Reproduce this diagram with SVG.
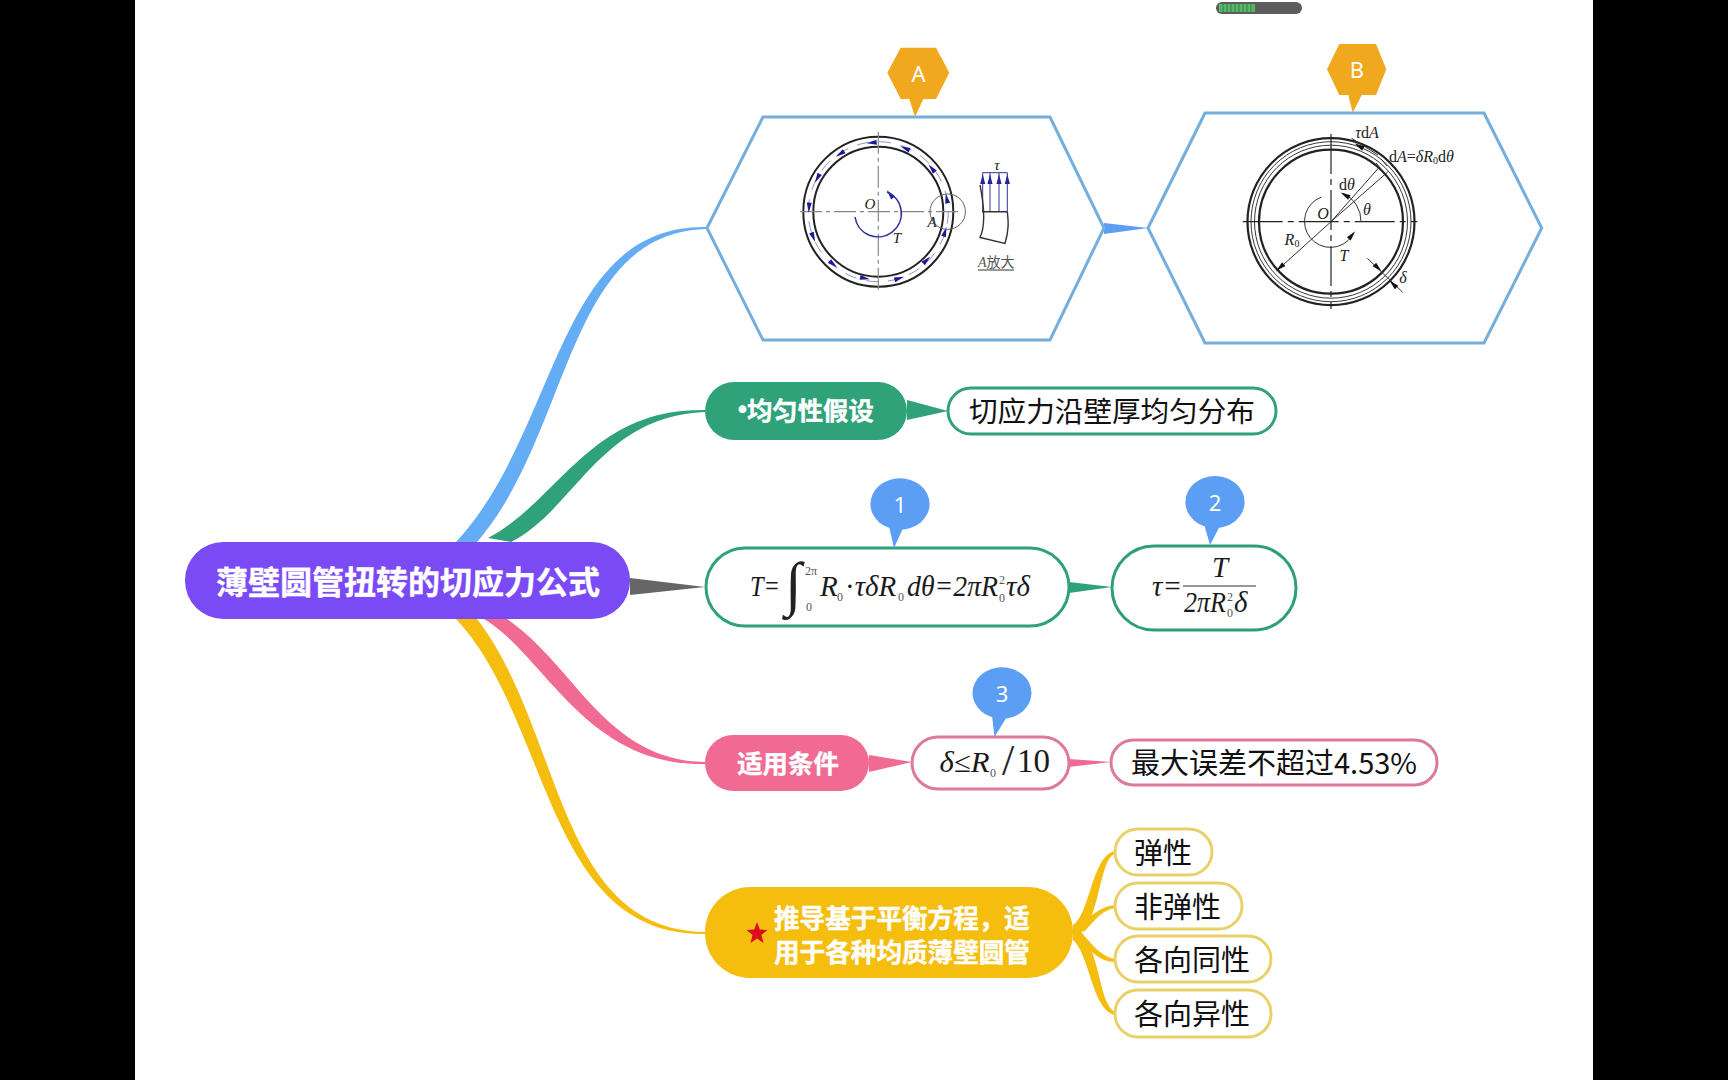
<svg xmlns="http://www.w3.org/2000/svg" width="1728" height="1080" viewBox="0 0 1728 1080">
<style>
.cjk{font-family:"Noto Sans CJK SC","Noto Sans",sans-serif}
.w{fill:#fff;font-weight:700;stroke:#fff;stroke-width:.4;dominant-baseline:central}
.k{fill:#111;dominant-baseline:central}
.c{text-anchor:middle}
.m{fill:#fff;font-family:"Noto Sans","Liberation Sans",sans-serif;font-size:22px;text-anchor:middle;dominant-baseline:central}
.s{font-family:"Liberation Serif",serif;fill:#222}
.i{font-style:italic}
.f{font-size:29px;fill:#1a1a1a}
.t{font-size:12px;fill:#555}
.d{font-size:16px}
.hex{fill:#fff;stroke:#74AEDC;stroke-width:3}
.ax{stroke:#888;stroke-width:1.2;stroke-dasharray:22 4 4 4;fill:none}
.ax2{stroke:#222;stroke-width:1.2;stroke-dasharray:40 5 6 5;fill:none}
.r{fill:none;stroke:#222}
.ln{fill:none;stroke:#333;stroke-width:1}
.bl{fill:#5B9EF4}
.or{fill:#F0A81E}
.nd{fill:#fff;stroke-width:3}
</style>
<defs><polygon id="h" points="-5,-2.5 5,0 -5,2.5"/></defs>
<rect width="1728" height="1080" fill="#fff"/>
<rect id="bar-left" x="0" y="0" width="135" height="1080" fill="#000"/>
<rect id="bar-right" x="1593" y="0" width="135" height="1080" fill="#000"/>
<g id="progress">
<rect x="1216" y="2" width="86" height="12" rx="6" fill="#5c5c5c"/>
<rect x="1219" y="4" width="36" height="8" fill="#58b868"/>
<path d="M1223 4v8M1227 4v8M1231 4v8M1235 4v8M1239 4v8M1243 4v8M1247 4v8M1251 4v8" stroke="#3d7a4a" stroke-width="1"/>
</g>
<g id="connectors">
<path fill="#64ADF5" d="M456,542C560,430 556,224 707,227L707,229C566,232 572,432 477,542Z"/>
<path fill="#2FA27A" d="M488,538C560,500 590,408 705,410L705,412C600,416 575,510 511,542Z"/>
<path fill="#666" d="M630,578L705,587L630,595Z"/>
<path fill="#F06A93" d="M484,619C545,655 585,766 705,764L705,762C605,760 575,665 507,619Z"/>
<path fill="#F5BE0F" d="M456,619C551,720 545,936 705,934L705,932C556,930 563,730 477,619Z"/>
<path fill="#5B9EF4" d="M1104,223L1148,228L1104,234Z"/>
<path fill="#2FA27A" d="M907,400L948,411L907,420Z"/>
<path fill="#2FA27A" d="M1069,582L1112,587L1069,593Z"/>
<path fill="#F06A93" d="M869,755L912,762L869,772Z"/>
<path fill="#F06A93" d="M1069,759L1111,762L1069,767Z"/>
<path fill="#F5BE0F" d="M1073,925C1090,915 1092,855 1115,851L1115,854C1100,858 1100,915 1082,932L1073,940Z"/>
<path fill="#F5BE0F" d="M1080,925C1092,915 1100,907 1115,905L1115,908C1102,910 1095,920 1084,932Z"/>
<path fill="#F5BE0F" d="M1082,933C1092,945 1102,957 1115,959L1115,962C1100,962 1090,950 1078,940Z"/>
<path fill="#F5BE0F" d="M1073,925L1082,933C1100,955 1100,1006 1115,1012L1115,1015C1092,1010 1090,955 1073,940Z"/>
</g>
<g id="root">
<rect x="185" y="542" width="445" height="77" rx="38" fill="#7A4BF5"/>
<text class="cjk w c" x="408" y="580" font-size="32">薄壁圆管扭转的切应力公式</text>
</g>
<g id="hex-a">
<polygon class="hex" points="707,228 763,117 1050,117 1104,228 1050,340 763,340"/>
<circle class="r" stroke-width="2" cx="878.3" cy="211.7" r="75"/>
<circle class="r" stroke-width="2" cx="878.3" cy="211.7" r="65"/>
<circle cx="878.3" cy="211.7" r="70" fill="none" stroke="#7777bb" stroke-width=".8" stroke-dasharray="12 10"/>
<path class="ax" d="M800,211.7H958M878.3,131.7V291.7"/>
<g fill="#1a1a9a">
<use href="#h" transform="translate(871.7,142.7) rotate(174.5)"/>
<use href="#h" transform="translate(905,148.3) rotate(-157)"/>
<use href="#h" transform="translate(931.7,168.3) rotate(-129)"/>
<use href="#h" transform="translate(946.7,198.3) rotate(-101)"/>
<use href="#h" transform="translate(945,231.7) rotate(-73)"/>
<use href="#h" transform="translate(926.7,260) rotate(-45)"/>
<use href="#h" transform="translate(899.3,278.3) rotate(-17.5)"/>
<use href="#h" transform="translate(865,278.3) rotate(11)"/>
<use href="#h" transform="translate(833.3,264.3) rotate(40)"/>
<use href="#h" transform="translate(813.3,237.3) rotate(68)"/>
<use href="#h" transform="translate(809,207.7) rotate(93)"/>
<use href="#h" transform="translate(817.3,178.3) rotate(118.7)"/>
<use href="#h" transform="translate(840,154) rotate(146.4)"/>
<use href="#h" transform="translate(890,194) rotate(-130)"/>
<use href="#h" transform="translate(982.7,179) rotate(-90)"/>
<use href="#h" transform="translate(990,179) rotate(-90)"/>
<use href="#h" transform="translate(999,179) rotate(-90)"/>
<use href="#h" transform="translate(1007.3,179) rotate(-90)"/>
</g>
<path d="M887,192A23.3,23.3 0 1 1 855,217" fill="none" stroke="#33339a" stroke-width="1.6"/>
<circle cx="947.7" cy="211.7" r="17.7" fill="none" stroke="#666" stroke-width="1"/>
<path d="M982.7,172.7H1007.3M982.7,172.7V211.7M990,172.7V211.7M999,172.7V211.7M1007.3,172.7V211.7" fill="none" stroke="#333399" stroke-width="1"/>
<path d="M982,211.7H1007.3M980,185C984,205 986,225 980,237.5L1005,243.5C1009,230 1008.5,222 1007.3,211.7" fill="none" stroke="#333" stroke-width="1.4"/>
<path d="M978,270H1014" stroke="#777" stroke-width="1.5"/>
<text class="s i" font-size="15" x="870" y="209" text-anchor="middle">O</text>
<text class="s i" font-size="15" x="897" y="243" text-anchor="middle">T</text>
<text class="s i" font-size="15" x="932" y="227" text-anchor="middle">A</text>
<text class="s i" font-size="15" x="997" y="170" text-anchor="middle">τ</text>
<text class="s i" font-size="14" x="978" y="267" style="fill:#555">A<tspan class="cjk" style="font-style:normal" font-size="14">放大</tspan></text>
</g>
<g id="marker-a">
<polygon class="or" points="887.3,72.7 900.7,47.7 936,47.7 949.3,72.7 936,99 923.3,99 915,117 909.3,99 900.7,99"/>
<text class="m" x="918.5" y="73">A</text>
</g>
<g id="hex-b">
<polygon class="hex" points="1148,228 1205,113 1484,113 1541.7,228 1484,343 1205,343"/>
<circle class="r" stroke-width="2.2" cx="1331" cy="221.7" r="83.5"/>
<circle class="r" stroke-width="2.2" cx="1331" cy="221.7" r="72"/>
<circle class="r" stroke-width=".9" cx="1331" cy="221.7" r="80"/>
<circle class="r" stroke-width=".9" cx="1331" cy="221.7" r="76.5"/>
<path class="ax2" d="M1242.7,221.7H1417.3M1331,134V309"/>
<path class="ln" d="M1331,221.7L1378.3,168.3M1331,221.7L1388,171.7M1376,163L1382,170M1381,159L1387,166"/>
<path class="ln" d="M1331,221.7L1276.7,270.7M1367.3,258.3L1402.7,292.3M1351.7,138.3L1378,155"/>
<path class="ln" stroke-width="1.2" d="M1361,221.7A30,30 0 0 0 1343,193.5"/>
<path class="ln" stroke-width="1.2" d="M1321.5,197A26,26 0 1 0 1352,236"/>
<g fill="#111">
<use href="#h" transform="translate(1280,267.5) rotate(138)"/>
<use href="#h" transform="translate(1378,268) rotate(44)"/>
<use href="#h" transform="translate(1393,284) rotate(224)"/>
<use href="#h" transform="translate(1359,146) rotate(210)"/>
<use href="#h" transform="translate(1352,235) rotate(-50)"/>
<use href="#h" transform="translate(1345,195) rotate(210)"/>
</g>
<text class="s d" x="1367" y="138" text-anchor="middle"><tspan class="i">τ</tspan>d<tspan class="i">A</tspan></text>
<text class="s d" x="1389" y="162">d<tspan class="i">A</tspan>=<tspan class="i">δR</tspan><tspan font-size="10" dy="2">0</tspan><tspan dy="-2">d</tspan><tspan class="i">θ</tspan></text>
<text class="s d" x="1347" y="190" text-anchor="middle">d<tspan class="i">θ</tspan></text>
<text class="s i d" x="1367" y="215" text-anchor="middle">θ</text>
<text class="s i d" x="1323" y="219" text-anchor="middle">O</text>
<text class="s d" x="1292" y="245" text-anchor="middle"><tspan class="i">R</tspan><tspan font-size="10" dy="2">0</tspan></text>
<text class="s i d" x="1344" y="261" text-anchor="middle">T</text>
<text class="s i d" x="1403" y="283" text-anchor="middle">δ</text>
</g>
<g id="marker-b">
<polygon class="or" points="1327,69.3 1339.3,44 1376,44 1386.3,69.3 1376,95 1361.7,95 1352.7,112.7 1348.3,95 1339.3,95"/>
<text class="m" x="1357" y="69">B</text>
</g>
<g id="n-uniform">
<rect x="705" y="382" width="202" height="58" rx="29" fill="#2FA27A"/>
<text class="cjk w" x="738" y="409" font-size="25.4"><tspan style="font-family:'Liberation Sans',sans-serif">•</tspan>均匀性假设</text>
</g>
<g id="n-uniform-child">
<rect class="nd" x="948" y="388" width="328" height="46" rx="23" stroke="#2FA27A"/>
<text class="cjk k c" x="1112" y="409.5" font-size="28.6">切应力沿壁厚均匀分布</text>
</g>
<g id="n-torque">
<rect class="nd" x="706" y="548" width="363" height="78" rx="39" stroke="#2FA27A"/>
<text class="s i f" x="750" y="596" textLength="30" lengthAdjust="spacingAndGlyphs">T=</text>
<text class="s" x="785" y="604" font-size="60" fill="#111">∫</text>
<text class="s t" x="805" y="575">2π</text>
<text class="s t" x="806" y="611">0</text>
<text class="s i f" x="820" y="596">R</text>
<text class="s t" x="837" y="601">0</text>
<text class="s f" x="845" y="596">·<tspan class="i">τδR</tspan></text>
<text class="s t" x="898" y="601">0</text>
<text class="s i f" x="907" y="596" textLength="91" lengthAdjust="spacingAndGlyphs">dθ=2πR</text>
<text class="s t" x="999" y="584">2</text>
<text class="s t" x="999" y="602">0</text>
<text class="s i f" x="1006" y="596">τδ</text>
</g>
<g id="n-tau">
<rect class="nd" x="1112" y="546" width="184" height="84" rx="42" stroke="#2E9E77"/>
<text class="s i f" x="1152" y="596" textLength="30" lengthAdjust="spacingAndGlyphs">τ=</text>
<path d="M1183,586H1256" stroke="#333" stroke-width="1.2"/>
<text class="s i f" x="1220" y="577" text-anchor="middle">T</text>
<text class="s i f" x="1184" y="612" textLength="42" lengthAdjust="spacingAndGlyphs">2πR</text>
<text class="s t" x="1227" y="601">2</text>
<text class="s t" x="1227" y="617">0</text>
<text class="s i f" x="1234" y="612">δ</text>
</g>
<g id="n-cond">
<rect x="705" y="735" width="164" height="56" rx="28" fill="#F06A93"/>
<text class="cjk w c" x="788" y="762" font-size="25.4">适用条件</text>
</g>
<g id="n-delta">
<rect class="nd" x="912" y="737" width="157" height="52" rx="26" stroke="#DD7A9C"/>
<text class="s i f" x="939.5" y="772" font-size="32" textLength="50" lengthAdjust="spacingAndGlyphs">δ≤R</text>
<text class="s t" x="990" y="777">0</text>
<text class="s" x="1002" y="775" font-size="44" fill="#1a1a1a">/</text>
<text class="s f" x="1017" y="772" font-size="33" style="font-size:33px">10</text>
</g>
<g id="n-error">
<rect class="nd" x="1111" y="740" width="326" height="45" rx="22.5" stroke="#DD7A9C"/>
<text class="cjk k c" x="1274" y="761" font-size="29">最大误差不超过4.53%</text>
</g>
<g id="n-derive">
<rect x="705" y="887" width="368" height="91" rx="45" fill="#F5BE0F"/>
<text class="cjk w" x="774" y="916" font-size="25.6">推导基于平衡方程，适</text>
<text class="cjk w" x="774" y="950" font-size="25.6">用于各种均质薄壁圆管</text>
<polygon fill="#D8101A" points="757,922 759.8,929.6 767.5,930 761.5,935 763.5,943 757,938.5 750.5,943 752.5,935 746.5,930 754.2,929.6"/>
</g>
<g id="n-elastic">
<rect class="nd" x="1115" y="829" width="97" height="46" rx="23" stroke="#E9D16A"/>
<text class="cjk k" x="1134" y="851" font-size="29">弹性</text>
</g>
<g id="n-inelastic">
<rect class="nd" x="1115" y="883" width="127" height="46" rx="23" stroke="#E9D16A"/>
<text class="cjk k" x="1134" y="905" font-size="29">非弹性</text>
</g>
<g id="n-iso">
<rect class="nd" x="1115" y="936" width="156" height="46" rx="23" stroke="#E9D16A"/>
<text class="cjk k" x="1134" y="958" font-size="29">各向同性</text>
</g>
<g id="n-aniso">
<rect class="nd" x="1115" y="990" width="156" height="47" rx="23" stroke="#E9D16A"/>
<text class="cjk k" x="1134" y="1012" font-size="29">各向异性</text>
</g>
<g id="balloon-1">
<ellipse class="bl" cx="900" cy="504" rx="29.6" ry="25.7"/>
<polygon class="bl" points="889,526 904,526 894,548"/>
<text class="m" x="900" y="504">1</text>
</g>
<g id="balloon-2">
<ellipse class="bl" cx="1215" cy="502" rx="29.6" ry="26"/>
<polygon class="bl" points="1204,524 1221,524 1210,545"/>
<text class="m" x="1215" y="502">2</text>
</g>
<g id="balloon-3">
<ellipse class="bl" cx="1002" cy="693" rx="29.5" ry="25.7"/>
<polygon class="bl" points="992,715 1008,715 994.5,737"/>
<text class="m" x="1002" y="693">3</text>
</g>
</svg>
